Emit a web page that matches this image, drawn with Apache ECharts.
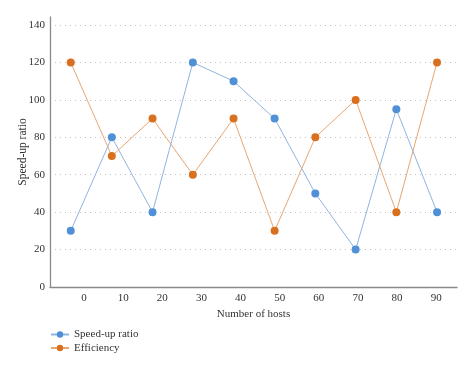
<!DOCTYPE html>
<html>
<head>
<meta charset="utf-8">
<script src="https://cdn.jsdelivr.net/npm/echarts@6/dist/echarts.min.js"></script>
<style>
html,body{margin:0;padding:0;background:#fff;}
#chart{width:474px;height:370px;}
</style>
</head>
<body>
<div id="chart"></div>
<script>
// Data
const hosts = [-3.4, 7.1, 17.5, 27.8, 38.2, 48.7, 59.1, 69.4, 79.8, 90.2];
const speedUp = [30, 80, 40, 120, 110, 90, 50, 20, 95, 40];
const efficiency = [120, 70, 90, 60, 90, 30, 80, 100, 40, 120];
const xTickLabels = [0, 10, 20, 30, 40, 50, 60, 70, 80, 90];
const yTickLabels = [0, 20, 40, 60, 80, 100, 120, 140];

const FONT = '"Liberation Serif", "DejaVu Serif", serif';
const TXT = '#333';

const chart = echarts.init(document.getElementById('chart'), null, {renderer: 'canvas'});
chart.setOption({
  animation: false,
  backgroundColor: '#fff',
  textStyle: {fontFamily: FONT},
  grid: {left: 50, top: 17, right: 17, bottom: 83, containLabel: false},
  xAxis: {
    type: 'value',
    min: -8.7,
    max: 95.3,
    name: 'Number of hosts',
    nameLocation: 'middle',
    nameGap: 22,
    nameMoveOverlap: false,
    nameTextStyle: {fontFamily: FONT, fontSize: 11, color: TXT},
    axisLine: {show: true, onZero: false, lineStyle: {color: '#8a8a8a', width: 1.3}},
    axisTick: {show: false},
    splitLine: {show: false},
    axisLabel: {
      customValues: xTickLabels,
      fontFamily: FONT, fontSize: 11, color: TXT, margin: 6
    }
  },
  yAxis: {
    type: 'value',
    min: 0,
    max: 144.3,
    interval: 20,
    name: 'Speed-up ratio',
    nameLocation: 'middle',
    nameGap: 21,
    nameMoveOverlap: false,
    nameRotate: 90,
    nameTextStyle: {fontFamily: FONT, fontSize: 11.5, color: TXT},
    axisLine: {show: true, onZero: false, lineStyle: {color: '#8a8a8a', width: 1.3}},
    axisTick: {show: false},
    splitLine: {
      show: true, showMinLine: false, showMaxLine: false,
      lineStyle: {color: '#c4c4c4', type: [1, 4], width: 1}
    },
    axisLabel: {
      customValues: yTickLabels,
      fontFamily: FONT, fontSize: 11, color: TXT, margin: 5
    }
  },
  legend: {
    orient: 'vertical',
    left: 45,
    top: 324,
    itemWidth: 18,
    itemHeight: 8,
    itemGap: 2.5,
    textStyle: {fontFamily: FONT, fontSize: 11, color: TXT},
    data: ['Speed-up ratio', 'Efficiency']
  },
  series: [
    {
      name: 'Speed-up ratio',
      type: 'line',
      data: hosts.map((h, i) => [h, speedUp[i]]),
      symbol: 'circle',
      symbolSize: 8,
      itemStyle: {color: '#4f90d6'},
      lineStyle: {color: '#8fb5e0', width: 1}
    },
    {
      name: 'Efficiency',
      type: 'line',
      data: hosts.map((h, i) => [h, efficiency[i]]),
      symbol: 'circle',
      symbolSize: 8,
      itemStyle: {color: '#d9701f'},
      lineStyle: {color: '#e8a672', width: 1}
    }
  ]
});
</script>
</body>
</html>
